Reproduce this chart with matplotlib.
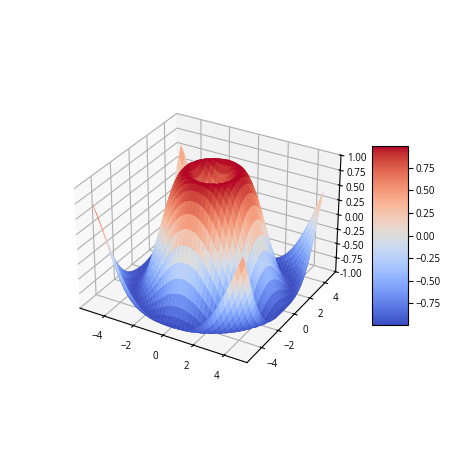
import numpy as np
import matplotlib
matplotlib.use('Agg')
import matplotlib.pyplot as plt
from matplotlib import cm
from matplotlib.ticker import FormatStrFormatter, LinearLocator

plt.rcParams['font.family'] = ['Open Sans', 'DejaVu Sans']
plt.rcParams['font.size'] = 7

x_grid = np.arange(-5, 5, 0.25)
y_grid = np.arange(-5, 5, 0.25)

# surface height for one octant of the symmetric grid,
# row a holds the cells a steps out on one axis and 0..a steps out on the other
height_rows = [
    [0.000],
    [0.247, 0.346],
    [0.479, 0.530, 0.650],
    [0.682, 0.711, 0.784, 0.873],
    [0.841, 0.858, 0.899, 0.949, 0.988],
    [0.949, 0.957, 0.975, 0.994, 1.000, 0.981],
    [0.997, 0.999, 1.000, 0.994, 0.973, 0.928, 0.853],
    [0.984, 0.981, 0.969, 0.945, 0.903, 0.837, 0.742, 0.619],
    [0.909, 0.903, 0.882, 0.845, 0.787, 0.705, 0.598, 0.465, 0.308],
    [0.778, 0.769, 0.742, 0.696, 0.629, 0.537, 0.424, 0.287, 0.131, -0.040],
    [0.598, 0.588, 0.558, 0.507, 0.434, 0.340, 0.225, 0.089, -0.060, -0.220, -0.384],
    [0.382, 0.371, 0.340, 0.287, 0.214, 0.120, 0.009, -0.118, -0.256, -0.400, -0.544, -0.680],
    [0.141, 0.131, 0.100, 0.049, -0.021, -0.108, -0.211, -0.325, -0.448, -0.572, -0.691, -0.801, -0.892],
    [-0.108, -0.118, -0.146, -0.192, -0.256, -0.334, -0.424, -0.522, -0.625, -0.725, -0.818, -0.898, -0.958, -0.993],
    [-0.351, -0.359, -0.384, -0.424, -0.478, -0.544, -0.618, -0.697, -0.777, -0.852, -0.917, -0.966, -0.995, -0.998, -0.972],
    [-0.572, -0.578, -0.599, -0.631, -0.674, -0.725, -0.782, -0.839, -0.895, -0.943, -0.979, -0.998, -0.996, -0.969, -0.914, -0.830],
    [-0.757, -0.762, -0.777, -0.801, -0.831, -0.867, -0.904, -0.941, -0.971, -0.993, -1.000, -0.990, -0.959, -0.904, -0.824, -0.717, -0.586],
    [-0.895, -0.898, -0.908, -0.923, -0.941, -0.960, -0.979, -0.993, -1.000, -0.995, -0.976, -0.939, -0.883, -0.804, -0.701, -0.577, -0.432, -0.270],
    [-0.978, -0.979, -0.983, -0.989, -0.995, -0.999, -1.000, -0.993, -0.978, -0.950, -0.907, -0.847, -0.768, -0.668, -0.550, -0.413, -0.259, -0.093, 0.081],
    [-0.999, -0.999, -0.998, -0.995, -0.990, -0.980, -0.964, -0.939, -0.904, -0.856, -0.793, -0.713, -0.617, -0.504, -0.374, -0.229, -0.073, 0.091, 0.257, 0.420],
    [-0.959, -0.957, -0.951, -0.941, -0.926, -0.904, -0.874, -0.834, -0.782, -0.717, -0.639, -0.546, -0.437, -0.315, -0.179, -0.033, 0.120, 0.275, 0.429, 0.576, 0.709],
]

X, Y = np.meshgrid(x_grid, y_grid)
steps = np.abs(np.arange(-20, 20))
Z = np.array([[height_rows[max(a, b)][min(a, b)] for a in steps] for b in steps])

fig = plt.figure(figsize=(4.74, 4.74), dpi=100)
ax = fig.add_axes([0.125, 0.1175, 0.62, 0.77], projection='3d')
surf = ax.plot_surface(X, Y, Z, cmap=cm.coolwarm, linewidth=0.25, antialiased=True)
surf.set_edgecolor('face')

ax.set_box_aspect((4, 4, 2.85))
ax.set_zlim(-1, 1)
ax.zaxis.set_major_locator(LinearLocator(9))
ax.zaxis.set_major_formatter(FormatStrFormatter('%.02f'))
ax.tick_params(axis='x', pad=0)
ax.tick_params(axis='y', pad=-1)
ax.tick_params(axis='z', pad=-1)

cax = fig.add_axes([372 / 474, 1 - 325 / 474, 36 / 474, 179 / 474])
fig.colorbar(surf, cax=cax)
cax.tick_params(pad=2)

fig.savefig('out.png', dpi=100)
